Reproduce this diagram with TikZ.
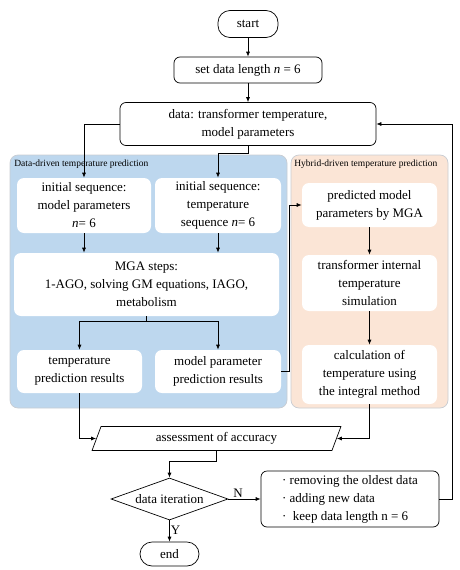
\documentclass[tikz,border=0pt]{standalone}
\usepackage{fontspec}
\setmainfont{Liberation Serif}
\usetikzlibrary{arrows.meta,shapes.geometric}
\definecolor{panelblue}{HTML}{BDD7EE}
\definecolor{panelpeach}{HTML}{FBE5D6}
\definecolor{panelline}{HTML}{C8CCD2}

\tikzset{
  txt/.style={font=\fontsize{13}{18}\selectfont, align=center, inner sep=1pt},
  termbox/.style={txt, draw, rounded corners=12pt},
  procbox/.style={txt, draw, rounded corners=6pt},
  subbox/.style={txt, fill=white, rounded corners=7pt},
  iobox/.style={txt, draw, trapezium, trapezium stretches=true,
    trapezium left angle=71, trapezium right angle=109},
  decbox/.style={txt, draw, diamond, aspect=2.8, inner sep=0pt},
  paneltitle/.style={font=\fontsize{9.5}{11}\selectfont, anchor=west, inner sep=0pt},
}

\begin{document}
\begin{tikzpicture}[x=1pt, y=-1pt, line width=0.7pt, >={Latex[length=5pt,width=4pt]}]
\useasboundingbox (0,0) rectangle (460,570);

% Draw the two shaded panels
\filldraw[fill=panelblue, draw=panelline, rounded corners=8pt] (10,155) rectangle (287,408);
\filldraw[fill=panelpeach, draw=panelline, rounded corners=8pt] (291,155) rectangle (448,408);
\node[paneltitle] (dtitle) at (14,164) {Data-driven temperature prediction};
\node[paneltitle] (htitle) at (294,164) {Hybrid-driven temperature prediction};

% Draw the main flow
\node[termbox, minimum width=60pt, minimum height=27pt] (start) at (248,24) {start};
\node[procbox, minimum width=148pt, minimum height=26pt] (setn) at (248,70) {set data length \textit{n} = 6};
\node[procbox, minimum width=256pt, minimum height=43pt] (data) at (248,124) {data: transformer temperature,\\ model parameters};

% Boxes of the data-driven panel
\node[subbox, minimum width=134pt, minimum height=55pt] (seqp) at (84,205.5) {initial sequence:\\ model parameters\\ \textit{n}= 6};
\node[subbox, minimum width=126pt, minimum height=55pt] (seqt) at (218,205.5) {initial sequence:\\ temperature\\ sequence \textit{n}= 6};
\node[subbox, minimum width=265pt, minimum height=63pt] (mga) at (146.5,284.5) {MGA steps:\\ 1-AGO, solving GM equations, IAGO,\\ metabolism};
\node[subbox, minimum width=125pt, minimum height=43pt] (tres) at (79.5,371.5) {temperature\\ prediction results};
\node[subbox, minimum width=126pt, minimum height=43pt] (pres) at (218,371.5) {model parameter\\ prediction results};

% Boxes of the hybrid-driven panel
\node[subbox, minimum width=135pt, minimum height=44pt] (mpar) at (369.5,205) {predicted model\\ parameters by MGA};
\node[subbox, minimum width=135pt, minimum height=56pt] (sim) at (369.5,283) {transformer internal\\ temperature\\ simulation};
\node[subbox, minimum width=135pt, minimum height=59pt] (calc) at (369.5,374.5) {calculation of\\ temperature using\\ the integral method};

% Bottom of the flow
\node[iobox, minimum width=249pt, minimum height=24pt] (assess) at (216.5,438.5) {assessment of accuracy};
\node[decbox, minimum width=117pt, minimum height=42pt] (iter) at (169.5,499) {data iteration};
\node[procbox, align=left, minimum width=178pt, minimum height=56pt] (update) at (350,499) {· removing the oldest data\\ · adding new data\\ ·~ keep data length n = 6};
\node[termbox, minimum width=59pt, minimum height=24pt] (stop) at (169.5,554) {end};

% Connectors
\draw[->] (start) -- (setn);
\draw[->] (setn) -- (data);
\draw[->] (data.west) -| (seqp.north);
\draw[->] (data.south) -- ++(0,7) -| (seqt.north);
\draw[->] (seqp.south) -- (seqp.south |- mga.north);
\draw[->] (seqt.south) -- (seqt.south |- mga.north);
\draw (mga.south) -- ++(0,5) coordinate (split);
\draw[->] (split) -| (tres.north);
\draw[->] (split) -| (pres.north);
\draw[->] (pres.east) -- ++(8,0) |- (mpar.west);
\draw[->] (mpar) -- (sim);
\draw[->] (sim) -- (calc);
\draw[->] (tres.south) |- (assess.west);
\draw[->] (calc.south) |- (assess.east);
\draw[->] (assess.south) -- ++(0,10) -| (iter.north);
\draw[->] (iter.east) -- node[txt, pos=0.3, above] {N} (update.west);
\draw[->] (iter.south) -- node[txt, right, pos=0.45] {Y} (stop.north);
\draw[->] (update.east) -- ++(13,0) |- (data.east);

\end{tikzpicture}
\end{document}
